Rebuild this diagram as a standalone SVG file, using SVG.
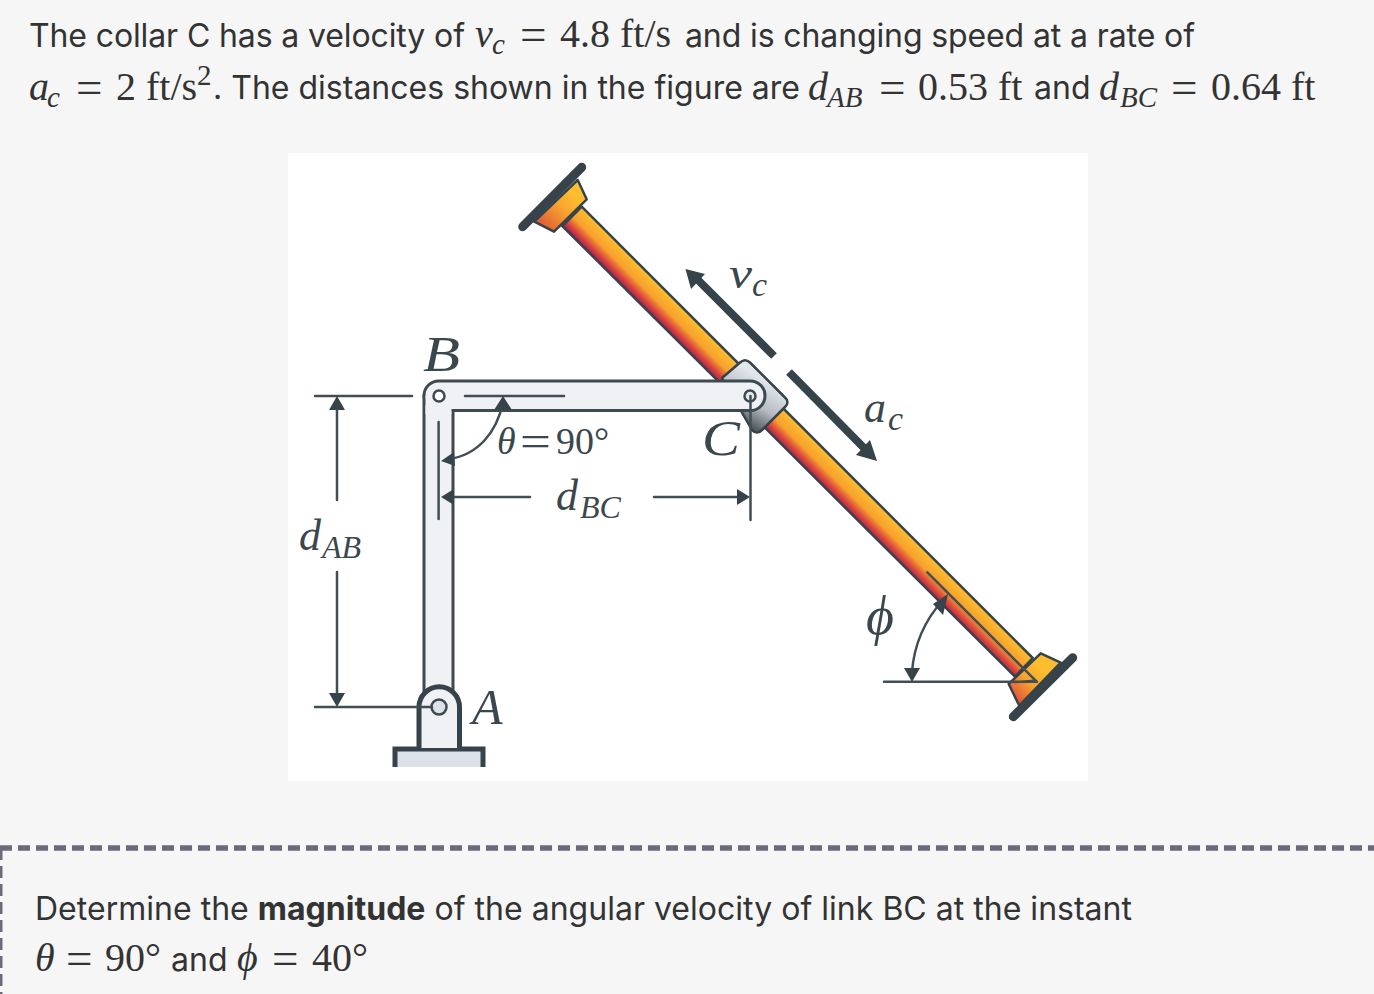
<svg xmlns="http://www.w3.org/2000/svg" width="1374" height="994" viewBox="0 0 1374 994">
<style>
.t{font-family:"Inter","Liberation Sans",sans-serif;font-size:32px;fill:#333}
.b{font-weight:700}
.m{font-family:"Liberation Serif",serif;font-size:40px;fill:#333}
.e{font-family:"Liberation Serif",serif;font-size:47px;fill:#333}
.i{font-style:italic}
.s{font-size:29px}
.f{font-family:"Liberation Serif",serif;font-style:italic;fill:#3a474c}
.u{font-family:"Liberation Serif",serif;fill:#3a474c}
.l{fill:none;stroke:#414e54;stroke-width:2.5;stroke-linecap:round}
.o{stroke:#36434a;stroke-width:2.5;stroke-linejoin:round}
.p{fill:#eff1f4;stroke:#3d4a50;stroke-width:3}
.h{fill:#36434a}
</style>
<defs>
<linearGradient id="rg" gradientUnits="userSpaceOnUse" x1="563" y1="225" x2="581" y2="207"><stop offset="0" stop-color="#b5204f"/><stop offset=".25" stop-color="#e0553a"/><stop offset=".5" stop-color="#f7a02e"/><stop offset="1" stop-color="#fdbd2e"/></linearGradient>
<linearGradient id="m1" gradientUnits="userSpaceOnUse" x1="540" y1="225" x2="572" y2="193"><stop offset="0" stop-color="#dd5a34"/><stop offset=".6" stop-color="#f9a42f"/><stop offset="1" stop-color="#fdbd2e"/></linearGradient>
<linearGradient id="m2" gradientUnits="userSpaceOnUse" x1="1012" y1="700" x2="1042" y2="670"><stop offset="0" stop-color="#dd4a3a"/><stop offset=".6" stop-color="#f9a42f"/><stop offset="1" stop-color="#fdbd2e"/></linearGradient>
<linearGradient id="cg" gradientUnits="userSpaceOnUse" x1="762" y1="378" x2="738" y2="418"><stop offset="0" stop-color="#e2e7ec"/><stop offset=".55" stop-color="#b6bcc2"/><stop offset="1" stop-color="#565e64"/></linearGradient>
</defs>
<rect width="1374" height="994" fill="#f6f6f7"/>
<g id="question-top">
<text class="t" x="29" y="47" textLength="436">The collar C has a velocity of</text>
<text class="m i" x="475" y="47">v</text><text class="m i s" x="492" y="54">c</text>
<text class="e" x="520" y="50">=</text><text class="m" x="560" y="47">4.8 ft/s</text>
<text class="t" x="685" y="47" textLength="510">and is changing speed at a rate of</text>
<text class="m i" x="29" y="100">a</text><text class="m i s" x="47" y="107">c</text>
<text class="e" x="76" y="103">=</text><text class="m" x="116" y="100">2 ft/s</text><text class="m s" x="197" y="85">2</text>
<text class="t" x="213" y="99" textLength="587">. The distances shown in the figure are</text>
<text class="m i" x="808" y="100">d</text><text class="m i s" x="827" y="107">AB</text>
<text class="e" x="879" y="103">=</text><text class="m" x="918" y="100">0.53 ft</text>
<text class="t" x="1034" y="99">and</text>
<text class="m i" x="1099" y="100">d</text><text class="m i s" x="1120" y="107">BC</text>
<text class="e" x="1171" y="103">=</text><text class="m" x="1211" y="100">0.64 ft</text>
</g>
<rect id="figure-panel" x="288" y="153" width="800" height="628" fill="#fff"/>
<g id="rod">
<path class="o" fill="url(#rg)" d="M581.7 206.700L1032.700 658L1015 676.700L562.300 226Z"/>
</g>
<g id="mount-top">
<path class="o" fill="url(#m1)" d="M577.700 180L586.700 199.300L554 231.700L534.300 221.700Z"/>
<path d="M522.700 226.700L581.700 167.300" fill="none" stroke="#36434a" stroke-width="9" stroke-linecap="round"/>
</g>
<g id="mount-bottom">
<path class="o" fill="url(#m2)" d="M1060.700 662.700L1040.700 653.300L1008.700 684L1019.300 705.700Z"/>
<path d="M1013.300 716.700L1072.700 657.700" fill="none" stroke="#36434a" stroke-width="9" stroke-linecap="round"/>
</g>
<g id="collar">
<path class="o" fill="url(#cg)" d="M740 362.500Q745 358 750 362.500L785 397.500Q790 402 785 407L762 430Q757 435 752 430L722 378Z"/>
</g>
<g id="link-ab">
<path class="p" d="M424 396V700H453V396Z"/>
</g>
<g id="link-bc">
<rect class="p" x="424" y="381" width="341" height="29.500" rx="14.700"/>
<rect x="425.500" y="396" width="26" height="18" fill="#eff1f4"/>
<circle cx="439" cy="396" r="5.500" fill="#fff" stroke="#3d4a50" stroke-width="2.500"/>
<circle cx="750" cy="396" r="5.500" fill="#e4e7ea" stroke="#3d4a50" stroke-width="2.500"/>
</g>
<g id="pivot-a">
<rect x="393" y="749" width="92" height="18" fill="#dde2ea"/>
<path d="M395 767V749H483V767" fill="none" stroke="#36434a" stroke-width="5"/>
<path d="M419 748V707A20 20 0 0 1 459.500 707V748" fill="#eff1f4" stroke="#36434a" stroke-width="5"/>
<circle cx="439" cy="707" r="7.500" fill="#dde2ea" stroke="#3d4a50" stroke-width="2.500"/>
</g>
<g id="connectors">
<path class="l" d="M315 396H412M465 396H564M337 500V404M337 572V700M315 707H432"/>
<path class="h" d="M337 396L329 410H345ZM337 707L329 693H345Z"/>
<path class="l" d="M438.600 422V519"/>
<path class="l" d="M503 402C497 432 478 455 449 459"/>
<path class="h" d="M503 396L494 410H512ZM441 461L454 452L455 466Z"/>
<path class="l" d="M448 497H530M654 497H742M750.500 396V520"/>
<path class="h" d="M441 497L454 489V505ZM750 497L737 489V505Z"/>
<path class="l" d="M927.300 572.300L1035.700 680.700L1015 682M884 681.700H1037"/>
<path class="l" d="M943 600C925 620 914 645 912 672"/>
<path class="h" d="M948 594L933 604L943 615ZM912 682L904 668H920Z"/>
<path d="M774 356L698 280" fill="none" stroke="#36434a" stroke-width="8"/>
<path class="h" d="M685.500 269L705 274L691 289Z"/>
<path d="M789 372L865 449" fill="none" stroke="#36434a" stroke-width="8"/>
<path class="h" d="M877 461L856 455L870 440Z"/>
</g>
<g id="figure-labels">
<text class="f" x="423" y="371" font-size="50" textLength="37" lengthAdjust="spacingAndGlyphs">B</text>
<text class="f" x="702" y="455" font-size="50" textLength="38" lengthAdjust="spacingAndGlyphs">C</text>
<text class="f" x="472" y="724" font-size="50">A</text>
<text class="f" x="497" y="454" font-size="38">θ</text>
<text class="u" x="520" y="456" font-size="44" textLength="31" lengthAdjust="spacingAndGlyphs">=</text>
<text class="u" x="556" y="454" font-size="38">90°</text>
<text class="f" x="556" y="510" font-size="44">d</text><text class="f" x="580" y="518" font-size="32">BC</text>
<text class="f" x="299" y="550" font-size="44">d</text><text class="f" x="322" y="558" font-size="32">AB</text>
<text class="f" x="729" y="288" font-size="44" textLength="23" lengthAdjust="spacingAndGlyphs">v</text><text class="f" x="752" y="296" font-size="34">c</text>
<text class="f" x="864" y="422" font-size="44">a</text><text class="f" x="888" y="430" font-size="34">c</text>
<text class="f" x="866" y="634" font-size="54">ϕ</text>
</g>
<g id="answer-box">
<path d="M0 848H1374" fill="none" stroke="#6b6b7b" stroke-width="5.500" stroke-dasharray="12 6"/>
<path d="M1 848V994" fill="none" stroke="#6b6b7b" stroke-width="3" stroke-dasharray="12 6"/>
<text class="t" x="35" y="920" textLength="1097">Determine the <tspan class="b">magnitude</tspan> of the angular velocity of link BC at the instant</text>
<text class="m i" x="35" y="971">θ</text><text class="e" x="66" y="974">=</text><text class="m" x="105" y="971">90°</text>
<text class="t" x="171" y="971">and</text>
<text class="m i" x="237" y="971">ϕ</text><text class="e" x="272" y="974">=</text><text class="m" x="312" y="971">40°</text>
</g>
</svg>
